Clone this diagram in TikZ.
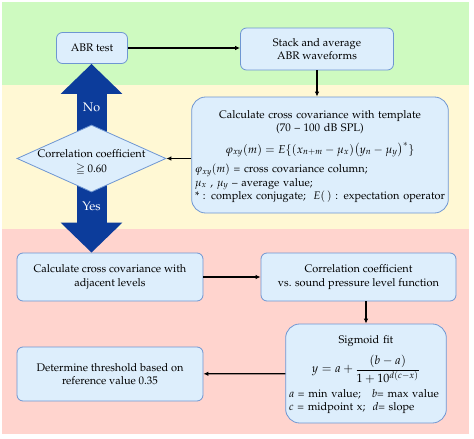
\documentclass[tikz,border=0pt]{standalone}
\usepackage[T1]{fontenc}
\usepackage{mathpazo}
\usepackage{amsmath}
\usepackage{amssymb}
\usepackage{xcolor}
\usetikzlibrary{shapes.geometric, arrows.meta, positioning}

\definecolor{bandgreen}{RGB}{206,250,192}
\definecolor{bandyellow}{RGB}{255,248,212}
\definecolor{bandpink}{RGB}{255,212,206}
\definecolor{boxfill}{RGB}{221,238,252}
\definecolor{boxdraw}{RGB}{110,150,210}
\definecolor{arrowblue}{RGB}{12,60,155}

\pgfdeclarelayer{bands}
\pgfdeclarelayer{under}
\pgfsetlayers{bands,under,main}

\begin{document}
\begin{tikzpicture}[
    x=1pt, y=-1pt,
    font=\fontsize{11}{13.5}\selectfont,
    stepbox/.style={rectangle, rounded corners=6pt, draw=boxdraw, fill=boxfill, line width=0.8pt, align=center},
    bigbox/.style={stepbox, rounded corners=14pt},
    decision/.style={diamond, draw=boxdraw, fill=boxfill, line width=0.8pt, aspect=2.2, inner sep=-10pt, minimum width=149pt, minimum height=67pt},
    link/.style={-{Latex[length=5pt,width=4.5pt]}, line width=1.2pt},
    bigarrow/.style={line width=30pt, draw=arrowblue, -{Triangle[length=30pt,width=60pt]}},
    bigtext/.style={text=white, font=\fontsize{12.5}{14}\selectfont}
]
    \useasboundingbox (0,0) rectangle (474,439);

    % Stages
    \begin{pgfonlayer}{bands}
        \fill[bandgreen] (2,2) rectangle (469,85);
        \fill[bandyellow] (2,85) rectangle (469,229);
        \fill[bandpink] (2,229) rectangle (469,434);
    \end{pgfonlayer}

    % Recording
    \node[stepbox, minimum width=71pt, minimum height=31pt] (abr) at (92,48) {ABR test};
    \node[stepbox, minimum width=153pt, minimum height=42pt] (stack) at (317,49) {Stack and average\\ABR waveforms};

    % Template check
    \node[bigbox, text width=250pt, minimum height=116pt] (tmpl) at (320,155) {%
        \rule{0pt}{11pt}Calculate cross covariance with template\\
        (70 -- 100 dB SPL)\\[8pt]
        {\fontsize{11.5}{13}\selectfont\mbox{$\varphi_{xy}(m) = E\{(x_{n+m}-\mu_x)\bigl(y_n-\mu_y\bigr)^{*}\}$}}\\[6pt]
        \parbox[t]{250pt}{\raggedright
        $\varphi_{xy}(m)$ = cross covariance column;\\
        $\mu_x$ , $\mu_y$ -- average value;\\
        * : complex conjugate;\ \ $E(\,)$ : expectation operator}};
    \node[decision] (dia) at (91.5,158.5) {\raisebox{-4pt}[\height][\depth]{\begin{tabular}{@{}c@{}}Correlation coefficient\\[1pt]$\geqq$ 0.60\end{tabular}}};

    % Threshold estimation
    \node[stepbox, minimum width=186pt, minimum height=48pt] (adj) at (110,277) {Calculate cross covariance with\\adjacent levels};
    \node[stepbox, minimum width=195pt, minimum height=48pt] (corr) at (358.5,277) {Correlation coefficient\\vs. sound pressure level function};
    \node[bigbox, text width=154pt, minimum height=99pt] (sig) at (366,373.5) {%
        \rule{0pt}{10pt}Sigmoid fit\\[8pt]
        {\fontsize{12}{14}\selectfont\mbox{$y = a + \dfrac{(b-a)}{1+10^{d(c-x)}}$}}\\[5pt]
        \parbox[t]{154pt}{\raggedright
        $a$ = min value;\quad $b$= max value\\
        $c$ = midpoint x;\ \ $d$= slope}};
    \node[stepbox, minimum width=186pt, minimum height=54pt] (thr) at (110,374) {Determine threshold based on\\reference value 0.35};

    % No / Yes branches
    \begin{pgfonlayer}{under}
        \draw[bigarrow] (dia.center) -- (dia |- abr.south) node[bigtext, pos=0.54] {No};
        \draw[bigarrow] (dia.center) -- (dia |- adj.north) node[bigtext, pos=0.51] {Yes};
    \end{pgfonlayer}

    % Flow
    \draw[link] (abr) -- (abr -| stack.west);
    \draw[link] (stack.south) -- (stack.south |- tmpl.north);
    \draw[link] (tmpl.west |- dia) -- (dia.east);
    \draw[link] (adj) -- (corr);
    \draw[link] (sig.north |- corr.south) -- (sig.north);
    \draw[link] (sig) -- (thr);
\end{tikzpicture}
\end{document}
